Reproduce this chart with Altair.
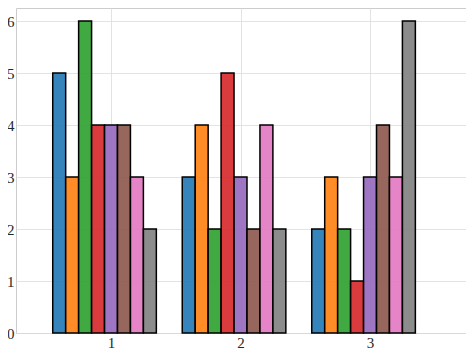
import altair as alt
import pandas as pd

groups = [1, 2, 3]
series = ["s1", "s2", "s3", "s4", "s5", "s6", "s7", "s8"]
colors = ["#1f77b4", "#ff7f0e", "#2ca02c", "#d62728", "#9467bd", "#8c564b", "#e377c2", "#7f7f7f"]
values = {
    1: [5, 3, 6, 4, 4, 4, 3, 2],
    2: [3, 4, 2, 5, 3, 2, 4, 2],
    3: [2, 3, 2, 1, 3, 4, 3, 6],
}
bar_w = 0.1

rows = []
for g in groups:
    for i, s in enumerate(series):
        x0 = g - 0.45 + i * bar_w
        rows.append({"group": g, "series": s, "x0": x0, "x1": x0 + bar_w, "v": values[g][i], "base": 0})
df = pd.DataFrame(rows)

font = "Liberation Serif"

chart = alt.Chart(df).mark_bar(stroke="black", strokeWidth=1.5, fillOpacity=0.9).encode(
    x=alt.X("x0:Q", scale=alt.Scale(domain=[0.2664, 3.741], nice=False, zero=False),
            axis=alt.Axis(values=groups, title=None, format="d", ticks=False, domain=False,
                          labelFont=font, labelFontSize=15, labelColor="#262626", labelPadding=2,
                          gridColor="#dcdcdc", gridWidth=0.8)),
    x2="x1:Q",
    y=alt.Y("v:Q", scale=alt.Scale(domain=[0, 6.25], nice=False),
            axis=alt.Axis(values=[0, 1, 2, 3, 4, 5, 6], title=None, ticks=False, domain=False,
                          labelFont=font, labelFontSize=15, labelColor="#262626", labelPadding=2,
                          gridColor="#dcdcdc", gridWidth=0.8)),
    y2="base:Q",
    color=alt.Color("series:N", scale=alt.Scale(domain=series, range=colors), legend=None),
).properties(
    width=450, height=325,
    autosize=alt.AutoSizeParams(type="none"),
    padding={"left": 8, "top": 0, "right": 0, "bottom": 17},
).configure_view(stroke="#cccccc", strokeWidth=1)

chart.save("out.html", embed_options={"renderer": "svg", "actions": False})
